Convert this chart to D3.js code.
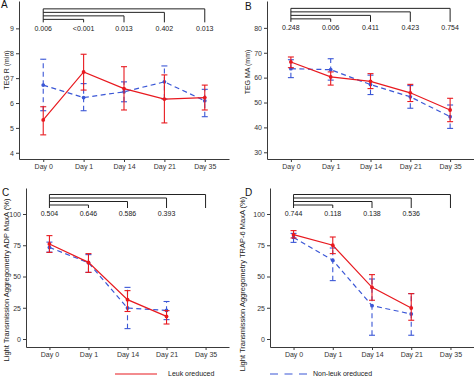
<!DOCTYPE html>
<html><head><meta charset="utf-8">
<script src="https://cdn.jsdelivr.net/npm/d3@7"></script>
<style>
body{margin:0;background:#fff;}
svg{display:block;font-family:"Liberation Sans",Arial,sans-serif;}
</style></head><body>
<svg id="c" width="474" height="380"></svg>
<script>
const days = ["Day 0","Day 1","Day 14","Day 21","Day 35"];

// Panel A: TEG R (min)
const tegRLeuk   = [5.32, 7.25, 6.58, 6.16, 6.22];
const tegRLeukLo = [4.72, 6.52, 5.72, 5.20, 5.72];
const tegRLeukHi = [5.85, 7.96, 7.46, 7.13, 6.72];
const tegRNon    = [6.72, 6.22, 6.45, 6.85, 6.09];
const tegRNonLo  = [5.69, 5.69, 6.05, 6.16, 5.45];
const tegRNonHi  = [7.76, 6.78, 6.85, 7.49, 6.55];
const pA = ["0.006","<0.001","0.013","0.402","0.013"];
const ticksA = [4,5,6,7,8,9];

// Panel B: TEG MA (mm)
const tegMALeuk   = [66.3, 60.3, 58.5, 53.9, 47.0];
const tegMALeukLo = [64.0, 57.0, 55.6, 50.4, 42.3];
const tegMALeukHi = [68.3, 62.3, 61.6, 57.3, 51.7];
const tegMANon    = [63.6, 63.2, 57.2, 52.3, 44.3];
const tegMANonLo  = [60.0, 59.0, 53.2, 47.7, 39.6];
const tegMANonHi  = [67.2, 67.6, 61.0, 56.8, 49.0];
const pB = ["0.248","0.006","0.411","0.423","0.754"];
const ticksB = [30,40,50,60,70,80];

// Panel C: LTA ADP MaxA (%)
const adpLeuk   = [76.0, 61.3, 31.5, 18.1];
const adpLeukLo = [69.3, 53.3, 22.0, 12.0];
const adpLeukHi = [82.7, 68.3, 38.7, 22.7];
const adpNon    = [73.3, 61.0, 24.8, 22.9];
const adpNonLo  = [69.5, 53.3, 8.3, 15.5];
const adpNonHi  = [77.5, 67.5, 41.3, 30.0];
const pC = ["0.504","0.646","0.586","0.393",""];

// Panel D: LTA TRAP-6 MaxA (%)
const trapLeuk   = [83.5, 75.0, 41.3, 24.8];
const trapLeukLo = [80.8, 68.3, 31.0, 15.0];
const trapLeukHi = [86.7, 81.6, 51.5, 36.3];
const trapNon    = [81.3, 63.0, 26.7, 20.0];
const trapNonLo  = [77.3, 46.7, 3.0, 3.0];
const trapNonHi  = [84.5, 72.8, 48.0, 36.3];
const pD = ["0.744","0.118","0.138","0.536",""];
const ticksCD = [0,25,50,75,100];

const seriesNames = ["Leuk oreduced","Non-leuk oreduced"];

const RED = "#e8191f", BLUE = "#3b57d6", AX = "#3a3a3a", TXT = "#333";
const svg = d3.select("#c");

function panel(o){
  const g = svg.append("g");
  const x = d3.scalePoint().domain(days).range(o.xr).padding(0.6);
  const y = d3.scaleLinear().domain(o.yd).range(o.yr);
  const bottom = o.yr[0];
  const ya = g.append("g").attr("transform",`translate(${o.xr[0]},0)`)
    .call(d3.axisLeft(y).tickValues(o.ticks).tickFormat(d3.format("d")).tickSizeInner(3).tickSizeOuter(0).tickPadding(2));
  const xa = g.append("g").attr("transform",`translate(0,${bottom})`)
    .call(d3.axisBottom(x).tickSizeInner(3).tickSizeOuter(0).tickPadding(2));
  [ya,xa].forEach(a=>{
    a.select(".domain").attr("stroke",AX).attr("stroke-width",1);
    a.selectAll(".tick line").attr("stroke",AX);
    a.selectAll("text").attr("fill",TXT).style("font-size","7px").style("font-family","Liberation Sans, Arial, sans-serif");
  });
  const ly = y(o.ticks[o.ticks.length-1]);
  const x0 = x(days[0]);
  const drop = ly - 6;
  const levels = [ly-9, ly-12.5, ly-16, ly-19.5];
  const bk = g.append("g").attr("stroke","#222").attr("stroke-width",1).attr("fill","none");
  bk.append("line").attr("x1",x0).attr("x2",x0).attr("y1",levels[3]).attr("y2",drop);
  days.slice(1).forEach((d,i)=>{
    bk.append("path").attr("d",`M${x0},${levels[i]}H${x(d)}V${drop}`);
  });
  g.append("g").selectAll("text").data(o.p).join("text")
    .attr("x",(d,i)=>x(days[i])).attr("y",ly).attr("dy","0.35em")
    .attr("text-anchor","middle").attr("fill","#222").style("font-size","7px").text(d=>d);
  const ser = [
    {v:o.non, lo:o.nonLo, hi:o.nonHi, c:BLUE, dash:"5,3.5"},
    {v:o.leuk, lo:o.leukLo, hi:o.leukHi, c:RED, dash:null}
  ];
  ser.forEach(s=>{
    const pts = s.v.map((v,i)=>({d:days[i],v,lo:s.lo[i],hi:s.hi[i]}));
    const sg = g.append("g");
    sg.selectAll("line.eb").data(pts).join("line").attr("class","eb")
      .attr("x1",d=>x(d.d)).attr("x2",d=>x(d.d)).attr("y1",d=>y(d.lo)).attr("y2",d=>y(d.hi))
      .attr("stroke",s.c).attr("stroke-width",1.1).attr("stroke-dasharray",s.dash);
    ["lo","hi"].forEach(k=>{
      sg.selectAll("line.cap"+k).data(pts).join("line").attr("class","cap"+k)
        .attr("x1",d=>x(d.d)-3).attr("x2",d=>x(d.d)+3).attr("y1",d=>y(d[k])).attr("y2",d=>y(d[k]))
        .attr("stroke",s.c).attr("stroke-width",1.1);
    });
    sg.append("path").datum(pts)
      .attr("d",d3.line().x(d=>x(d.d)).y(d=>y(d.v)))
      .attr("fill","none").attr("stroke",s.c).attr("stroke-width",1.2).attr("stroke-dasharray",s.dash);
    sg.selectAll("circle").data(pts).join("circle")
      .attr("cx",d=>x(d.d)).attr("cy",d=>y(d.v)).attr("r",1.9).attr("fill",s.c);
  });
  svg.append("text").attr("x",o.letter[0]).attr("y",o.letter[1]).style("font-size","10px").attr("fill","#111").text(o.L);
  svg.append("text").attr("transform",`translate(${o.title[0]},${o.title[1]}) rotate(-90)`)
    .attr("text-anchor","middle").attr("dy","0.35em").style("font-size",o.tfs).attr("fill","#222").text(o.T);
}

panel({xr:[19,229], yd:[3.75,10.1], yr:[159,1], ticks:ticksA, p:pA,
  leuk:tegRLeuk, leukLo:tegRLeukLo, leukHi:tegRLeukHi, non:tegRNon, nonLo:tegRNonLo, nonHi:tegRNonHi,
  letter:[1,8], L:"A", title:[7,70], T:"TEG R (min)", tfs:"7px"});
panel({xr:[267,474], yd:[27.3,90.8], yr:[159,1], ticks:ticksB, p:pB,
  leuk:tegMALeuk, leukLo:tegMALeukLo, leukHi:tegMALeukHi, non:tegMANon, nonLo:tegMANonLo, nonHi:tegMANonHi,
  letter:[245,10], L:"B", title:[248,72], T:"TEG MA (mm)", tfs:"7px"});
panel({xr:[26,229], yd:[-6.4,120.8], yr:[347,188], ticks:ticksCD, p:pC,
  leuk:adpLeuk, leukLo:adpLeukLo, leukHi:adpLeukHi, non:adpNon, nonLo:adpNonLo, nonHi:adpNonHi,
  letter:[2,196], L:"C", title:[6,280], T:"Light Transmission Aggregometry ADP MaxA (%)", tfs:"7.5px"});
panel({xr:[270,474], yd:[-6.4,120.8], yr:[347,188], ticks:ticksCD, p:pD,
  leuk:trapLeuk, leukLo:trapLeukLo, leukHi:trapLeukHi, non:trapNon, nonLo:trapNonLo, nonHi:trapNonHi,
  letter:[245,196], L:"D", title:[242,284], T:"Light Transmission Aggregometry TRAP-6 MaxA (%)", tfs:"7.5px"});

const lg = svg.append("g");
const legendItems = [
  {name:seriesNames[0], c:RED, dash:null, x1:115, x2:157, tx:168},
  {name:seriesNames[1], c:BLUE, dash:"8,6.5", x1:270, x2:308, tx:313}
];
legendItems.forEach(it=>{
  lg.append("line").attr("x1",it.x1).attr("x2",it.x2).attr("y1",374).attr("y2",374)
    .attr("stroke",it.c).attr("stroke-width",1.2).attr("stroke-dasharray",it.dash);
  lg.append("text").attr("x",it.tx).attr("y",374).attr("dy","0.35em").style("font-size","7px").attr("fill","#222").text(it.name);
});
</script></body></html>
